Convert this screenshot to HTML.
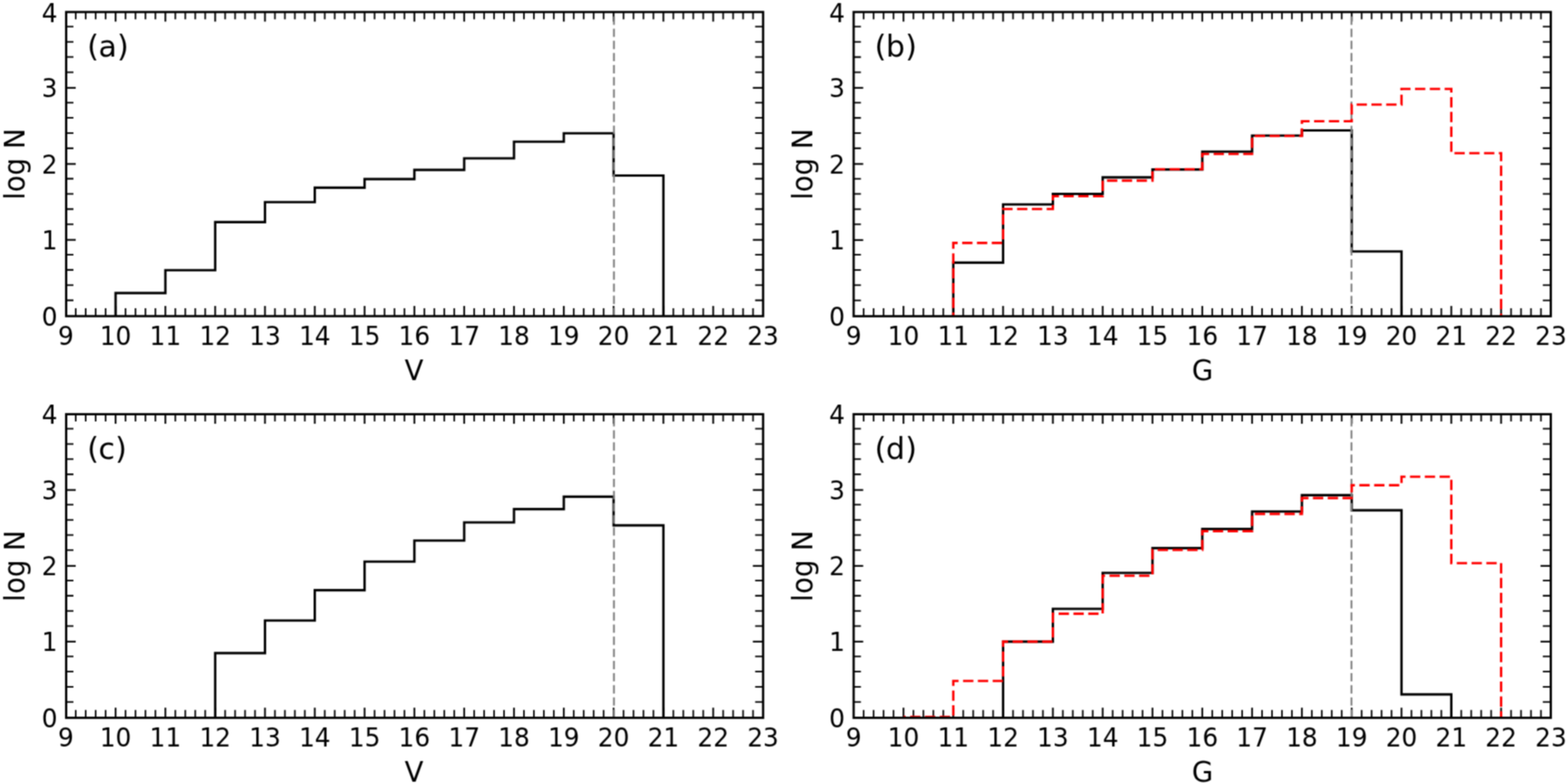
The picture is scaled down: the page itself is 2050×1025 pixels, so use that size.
<!DOCTYPE html><html><head><meta charset="utf-8"><title>log N histograms</title><style>html,body{margin:0;padding:0;background:#fff;}svg{display:block;}text{font-family:'DejaVu Sans', 'Liberation Sans', sans-serif;fill:#000;}</style></head><body>
<div id="w">
<svg width="2050" height="1025" viewBox="0 0 2050 1025">
<defs><filter id="soft" x="0" y="0" width="2050" height="1025" filterUnits="userSpaceOnUse" color-interpolation-filters="sRGB"><feConvolveMatrix order="3" kernelMatrix="1 2 1 2 4 2 1 2 1" divisor="16" edgeMode="duplicate"/></filter></defs>
<g filter="url(#soft)">
<rect x="0" y="0" width="2050" height="1025" fill="#fff"/>
<g><g stroke="#000" fill="none"><path d="M99.02,413.3V403M99.02,15.75V25.25" stroke-width="2.05"/><path d="M112.04,413.3V403M112.04,15.75V25.25" stroke-width="2.05"/><path d="M125.07,413.3V403M125.07,15.75V25.25" stroke-width="2.05"/><path d="M138.09,413.3V403M138.09,15.75V25.25" stroke-width="2.05"/><path d="M151.11,413.3V400M151.11,15.75V28.25" stroke-width="2.25"/><path d="M164.13,413.3V403M164.13,15.75V25.25" stroke-width="2.05"/><path d="M177.16,413.3V403M177.16,15.75V25.25" stroke-width="2.05"/><path d="M190.18,413.3V403M190.18,15.75V25.25" stroke-width="2.05"/><path d="M203.2,413.3V403M203.2,15.75V25.25" stroke-width="2.05"/><path d="M216.22,413.3V400M216.22,15.75V28.25" stroke-width="2.25"/><path d="M229.24,413.3V403M229.24,15.75V25.25" stroke-width="2.05"/><path d="M242.27,413.3V403M242.27,15.75V25.25" stroke-width="2.05"/><path d="M255.29,413.3V403M255.29,15.75V25.25" stroke-width="2.05"/><path d="M268.31,413.3V403M268.31,15.75V25.25" stroke-width="2.05"/><path d="M281.33,413.3V400M281.33,15.75V28.25" stroke-width="2.25"/><path d="M294.35,413.3V403M294.35,15.75V25.25" stroke-width="2.05"/><path d="M307.38,413.3V403M307.38,15.75V25.25" stroke-width="2.05"/><path d="M320.4,413.3V403M320.4,15.75V25.25" stroke-width="2.05"/><path d="M333.42,413.3V403M333.42,15.75V25.25" stroke-width="2.05"/><path d="M346.44,413.3V400M346.44,15.75V28.25" stroke-width="2.25"/><path d="M359.46,413.3V403M359.46,15.75V25.25" stroke-width="2.05"/><path d="M372.49,413.3V403M372.49,15.75V25.25" stroke-width="2.05"/><path d="M385.51,413.3V403M385.51,15.75V25.25" stroke-width="2.05"/><path d="M398.53,413.3V403M398.53,15.75V25.25" stroke-width="2.05"/><path d="M411.55,413.3V400M411.55,15.75V28.25" stroke-width="2.25"/><path d="M424.58,413.3V403M424.58,15.75V25.25" stroke-width="2.05"/><path d="M437.6,413.3V403M437.6,15.75V25.25" stroke-width="2.05"/><path d="M450.62,413.3V403M450.62,15.75V25.25" stroke-width="2.05"/><path d="M463.64,413.3V403M463.64,15.75V25.25" stroke-width="2.05"/><path d="M476.66,413.3V400M476.66,15.75V28.25" stroke-width="2.25"/><path d="M489.69,413.3V403M489.69,15.75V25.25" stroke-width="2.05"/><path d="M502.71,413.3V403M502.71,15.75V25.25" stroke-width="2.05"/><path d="M515.73,413.3V403M515.73,15.75V25.25" stroke-width="2.05"/><path d="M528.75,413.3V403M528.75,15.75V25.25" stroke-width="2.05"/><path d="M541.77,413.3V400M541.77,15.75V28.25" stroke-width="2.25"/><path d="M554.8,413.3V403M554.8,15.75V25.25" stroke-width="2.05"/><path d="M567.82,413.3V403M567.82,15.75V25.25" stroke-width="2.05"/><path d="M580.84,413.3V403M580.84,15.75V25.25" stroke-width="2.05"/><path d="M593.86,413.3V403M593.86,15.75V25.25" stroke-width="2.05"/><path d="M606.89,413.3V400M606.89,15.75V28.25" stroke-width="2.25"/><path d="M619.91,413.3V403M619.91,15.75V25.25" stroke-width="2.05"/><path d="M632.93,413.3V403M632.93,15.75V25.25" stroke-width="2.05"/><path d="M645.95,413.3V403M645.95,15.75V25.25" stroke-width="2.05"/><path d="M658.97,413.3V403M658.97,15.75V25.25" stroke-width="2.05"/><path d="M672,413.3V400M672,15.75V28.25" stroke-width="2.25"/><path d="M685.02,413.3V403M685.02,15.75V25.25" stroke-width="2.05"/><path d="M698.04,413.3V403M698.04,15.75V25.25" stroke-width="2.05"/><path d="M711.06,413.3V403M711.06,15.75V25.25" stroke-width="2.05"/><path d="M724.09,413.3V403M724.09,15.75V25.25" stroke-width="2.05"/><path d="M737.11,413.3V400M737.11,15.75V28.25" stroke-width="2.25"/><path d="M750.13,413.3V403M750.13,15.75V25.25" stroke-width="2.05"/><path d="M763.15,413.3V403M763.15,15.75V25.25" stroke-width="2.05"/><path d="M776.17,413.3V403M776.17,15.75V25.25" stroke-width="2.05"/><path d="M789.2,413.3V403M789.2,15.75V25.25" stroke-width="2.05"/><path d="M802.22,413.3V400M802.22,15.75V28.25" stroke-width="2.25"/><path d="M815.24,413.3V403M815.24,15.75V25.25" stroke-width="2.05"/><path d="M828.26,413.3V403M828.26,15.75V25.25" stroke-width="2.05"/><path d="M841.28,413.3V403M841.28,15.75V25.25" stroke-width="2.05"/><path d="M854.31,413.3V403M854.31,15.75V25.25" stroke-width="2.05"/><path d="M867.33,413.3V400M867.33,15.75V28.25" stroke-width="2.25"/><path d="M880.35,413.3V403M880.35,15.75V25.25" stroke-width="2.05"/><path d="M893.37,413.3V403M893.37,15.75V25.25" stroke-width="2.05"/><path d="M906.4,413.3V403M906.4,15.75V25.25" stroke-width="2.05"/><path d="M919.42,413.3V403M919.42,15.75V25.25" stroke-width="2.05"/><path d="M932.44,413.3V400M932.44,15.75V28.25" stroke-width="2.25"/><path d="M945.46,413.3V403M945.46,15.75V25.25" stroke-width="2.05"/><path d="M958.48,413.3V403M958.48,15.75V25.25" stroke-width="2.05"/><path d="M971.51,413.3V403M971.51,15.75V25.25" stroke-width="2.05"/><path d="M984.53,413.3V403M984.53,15.75V25.25" stroke-width="2.05"/><path d="M86.5,392.62H96M997.7,392.62H987.3" stroke-width="2.05"/><path d="M86.5,372.75H96M997.7,372.75H987.3" stroke-width="2.05"/><path d="M86.5,352.87H96M997.7,352.87H987.3" stroke-width="2.05"/><path d="M86.5,332.99H96M997.7,332.99H987.3" stroke-width="2.05"/><path d="M86.5,313.71H99M997.7,313.71H984.3" stroke-width="2.25"/><path d="M86.5,293.23H96M997.7,293.23H987.3" stroke-width="2.05"/><path d="M86.5,273.36H96M997.7,273.36H987.3" stroke-width="2.05"/><path d="M86.5,253.48H96M997.7,253.48H987.3" stroke-width="2.05"/><path d="M86.5,233.6H96M997.7,233.6H987.3" stroke-width="2.05"/><path d="M86.5,214.33H99M997.7,214.33H984.3" stroke-width="2.25"/><path d="M86.5,193.85H96M997.7,193.85H987.3" stroke-width="2.05"/><path d="M86.5,173.97H96M997.7,173.97H987.3" stroke-width="2.05"/><path d="M86.5,154.09H96M997.7,154.09H987.3" stroke-width="2.05"/><path d="M86.5,134.21H96M997.7,134.21H987.3" stroke-width="2.05"/><path d="M86.5,114.94H99M997.7,114.94H984.3" stroke-width="2.25"/><path d="M86.5,94.46H96M997.7,94.46H987.3" stroke-width="2.05"/><path d="M86.5,74.58H96M997.7,74.58H987.3" stroke-width="2.05"/><path d="M86.5,54.7H96M997.7,54.7H987.3" stroke-width="2.05"/><path d="M86.5,34.83H96M997.7,34.83H987.3" stroke-width="2.05"/></g><path d="M151.11,413.3 L151.11,383.1 L216.22,383.1 L216.22,353.3 L281.33,353.3 L281.33,290.4 L346.44,290.4 L346.44,264.3 L411.55,264.3 L411.55,245.4 L476.66,245.4 L476.66,234.1 L541.77,234.1 L541.77,222.1 L606.89,222.1 L606.89,207 L672,207 L672,185.3 L737.11,185.3 L737.11,174.3 L802.22,174.3 L802.22,229.5 L867.33,229.5 L867.33,413.3" fill="none" stroke="#000" stroke-width="3.1" stroke-linejoin="miter"/><path d="M802.67,413.3V15.75" stroke="#808080" stroke-width="2.4" stroke-dasharray="10.9 4.97" fill="none"/><rect x="86.5" y="15.75" width="911.2" height="397.55" fill="none" stroke="#000" stroke-width="2.95"/><g font-size="32.5"><text transform="translate(86,450.85) scale(1,1.035)" text-anchor="middle">9</text><text transform="translate(151.11,450.85) scale(1,1.035)" text-anchor="middle">10</text><text transform="translate(216.22,450.85) scale(1,1.035)" text-anchor="middle">11</text><text transform="translate(281.33,450.85) scale(1,1.035)" text-anchor="middle">12</text><text transform="translate(346.44,450.85) scale(1,1.035)" text-anchor="middle">13</text><text transform="translate(411.55,450.85) scale(1,1.035)" text-anchor="middle">14</text><text transform="translate(476.66,450.85) scale(1,1.035)" text-anchor="middle">15</text><text transform="translate(541.77,450.85) scale(1,1.035)" text-anchor="middle">16</text><text transform="translate(606.89,450.85) scale(1,1.035)" text-anchor="middle">17</text><text transform="translate(672,450.85) scale(1,1.035)" text-anchor="middle">18</text><text transform="translate(737.11,450.85) scale(1,1.035)" text-anchor="middle">19</text><text transform="translate(802.22,450.85) scale(1,1.035)" text-anchor="middle">20</text><text transform="translate(867.33,450.85) scale(1,1.035)" text-anchor="middle">21</text><text transform="translate(932.44,450.85) scale(1,1.035)" text-anchor="middle">22</text><text transform="translate(997.55,450.85) scale(1,1.035)" text-anchor="middle">23</text><text transform="translate(75.1,426.35) scale(1,1.035)" text-anchor="end">0</text><text transform="translate(75.1,326.16) scale(1,1.035)" text-anchor="end">1</text><text transform="translate(75.1,226.78) scale(1,1.035)" text-anchor="end">2</text><text transform="translate(75.1,127.39) scale(1,1.035)" text-anchor="end">3</text><text transform="translate(75.1,28.5) scale(1,1.035)" text-anchor="end">4</text></g><text transform="translate(541.25,497.15) scale(1,1.04)" font-size="36" text-anchor="middle">V</text><text transform="translate(32.4,214.53) rotate(-90) scale(1,1.02)" font-size="36" text-anchor="middle">log N</text><text x="114" y="73.9" font-size="39.2">(<tspan dx="-0.6">a</tspan><tspan dx="0.3">)</tspan></text></g>
<g><g stroke="#000" fill="none"><path d="M1129.12,413.4V403.1M1129.12,15.75V25.25" stroke-width="2.05"/><path d="M1142.14,413.4V403.1M1142.14,15.75V25.25" stroke-width="2.05"/><path d="M1155.17,413.4V403.1M1155.17,15.75V25.25" stroke-width="2.05"/><path d="M1168.19,413.4V403.1M1168.19,15.75V25.25" stroke-width="2.05"/><path d="M1181.21,413.4V400.1M1181.21,15.75V28.25" stroke-width="2.25"/><path d="M1194.23,413.4V403.1M1194.23,15.75V25.25" stroke-width="2.05"/><path d="M1207.25,413.4V403.1M1207.25,15.75V25.25" stroke-width="2.05"/><path d="M1220.28,413.4V403.1M1220.28,15.75V25.25" stroke-width="2.05"/><path d="M1233.3,413.4V403.1M1233.3,15.75V25.25" stroke-width="2.05"/><path d="M1246.32,413.4V400.1M1246.32,15.75V28.25" stroke-width="2.25"/><path d="M1259.34,413.4V403.1M1259.34,15.75V25.25" stroke-width="2.05"/><path d="M1272.37,413.4V403.1M1272.37,15.75V25.25" stroke-width="2.05"/><path d="M1285.39,413.4V403.1M1285.39,15.75V25.25" stroke-width="2.05"/><path d="M1298.41,413.4V403.1M1298.41,15.75V25.25" stroke-width="2.05"/><path d="M1311.43,413.4V400.1M1311.43,15.75V28.25" stroke-width="2.25"/><path d="M1324.45,413.4V403.1M1324.45,15.75V25.25" stroke-width="2.05"/><path d="M1337.48,413.4V403.1M1337.48,15.75V25.25" stroke-width="2.05"/><path d="M1350.5,413.4V403.1M1350.5,15.75V25.25" stroke-width="2.05"/><path d="M1363.52,413.4V403.1M1363.52,15.75V25.25" stroke-width="2.05"/><path d="M1376.54,413.4V400.1M1376.54,15.75V28.25" stroke-width="2.25"/><path d="M1389.57,413.4V403.1M1389.57,15.75V25.25" stroke-width="2.05"/><path d="M1402.59,413.4V403.1M1402.59,15.75V25.25" stroke-width="2.05"/><path d="M1415.61,413.4V403.1M1415.61,15.75V25.25" stroke-width="2.05"/><path d="M1428.63,413.4V403.1M1428.63,15.75V25.25" stroke-width="2.05"/><path d="M1441.65,413.4V400.1M1441.65,15.75V28.25" stroke-width="2.25"/><path d="M1454.68,413.4V403.1M1454.68,15.75V25.25" stroke-width="2.05"/><path d="M1467.7,413.4V403.1M1467.7,15.75V25.25" stroke-width="2.05"/><path d="M1480.72,413.4V403.1M1480.72,15.75V25.25" stroke-width="2.05"/><path d="M1493.74,413.4V403.1M1493.74,15.75V25.25" stroke-width="2.05"/><path d="M1506.76,413.4V400.1M1506.76,15.75V28.25" stroke-width="2.25"/><path d="M1519.79,413.4V403.1M1519.79,15.75V25.25" stroke-width="2.05"/><path d="M1532.81,413.4V403.1M1532.81,15.75V25.25" stroke-width="2.05"/><path d="M1545.83,413.4V403.1M1545.83,15.75V25.25" stroke-width="2.05"/><path d="M1558.85,413.4V403.1M1558.85,15.75V25.25" stroke-width="2.05"/><path d="M1571.88,413.4V400.1M1571.88,15.75V28.25" stroke-width="2.25"/><path d="M1584.9,413.4V403.1M1584.9,15.75V25.25" stroke-width="2.05"/><path d="M1597.92,413.4V403.1M1597.92,15.75V25.25" stroke-width="2.05"/><path d="M1610.94,413.4V403.1M1610.94,15.75V25.25" stroke-width="2.05"/><path d="M1623.96,413.4V403.1M1623.96,15.75V25.25" stroke-width="2.05"/><path d="M1636.99,413.4V400.1M1636.99,15.75V28.25" stroke-width="2.25"/><path d="M1650.01,413.4V403.1M1650.01,15.75V25.25" stroke-width="2.05"/><path d="M1663.03,413.4V403.1M1663.03,15.75V25.25" stroke-width="2.05"/><path d="M1676.05,413.4V403.1M1676.05,15.75V25.25" stroke-width="2.05"/><path d="M1689.07,413.4V403.1M1689.07,15.75V25.25" stroke-width="2.05"/><path d="M1702.1,413.4V400.1M1702.1,15.75V28.25" stroke-width="2.25"/><path d="M1715.12,413.4V403.1M1715.12,15.75V25.25" stroke-width="2.05"/><path d="M1728.14,413.4V403.1M1728.14,15.75V25.25" stroke-width="2.05"/><path d="M1741.16,413.4V403.1M1741.16,15.75V25.25" stroke-width="2.05"/><path d="M1754.18,413.4V403.1M1754.18,15.75V25.25" stroke-width="2.05"/><path d="M1767.21,413.4V400.1M1767.21,15.75V28.25" stroke-width="2.25"/><path d="M1780.23,413.4V403.1M1780.23,15.75V25.25" stroke-width="2.05"/><path d="M1793.25,413.4V403.1M1793.25,15.75V25.25" stroke-width="2.05"/><path d="M1806.27,413.4V403.1M1806.27,15.75V25.25" stroke-width="2.05"/><path d="M1819.3,413.4V403.1M1819.3,15.75V25.25" stroke-width="2.05"/><path d="M1832.32,413.4V400.1M1832.32,15.75V28.25" stroke-width="2.25"/><path d="M1845.34,413.4V403.1M1845.34,15.75V25.25" stroke-width="2.05"/><path d="M1858.36,413.4V403.1M1858.36,15.75V25.25" stroke-width="2.05"/><path d="M1871.38,413.4V403.1M1871.38,15.75V25.25" stroke-width="2.05"/><path d="M1884.41,413.4V403.1M1884.41,15.75V25.25" stroke-width="2.05"/><path d="M1897.43,413.4V400.1M1897.43,15.75V28.25" stroke-width="2.25"/><path d="M1910.45,413.4V403.1M1910.45,15.75V25.25" stroke-width="2.05"/><path d="M1923.47,413.4V403.1M1923.47,15.75V25.25" stroke-width="2.05"/><path d="M1936.5,413.4V403.1M1936.5,15.75V25.25" stroke-width="2.05"/><path d="M1949.52,413.4V403.1M1949.52,15.75V25.25" stroke-width="2.05"/><path d="M1962.54,413.4V400.1M1962.54,15.75V28.25" stroke-width="2.25"/><path d="M1975.56,413.4V403.1M1975.56,15.75V25.25" stroke-width="2.05"/><path d="M1988.58,413.4V403.1M1988.58,15.75V25.25" stroke-width="2.05"/><path d="M2001.61,413.4V403.1M2001.61,15.75V25.25" stroke-width="2.05"/><path d="M2014.63,413.4V403.1M2014.63,15.75V25.25" stroke-width="2.05"/><path d="M1116.05,392.72H1125.55M2027.5,392.72H2017.1" stroke-width="2.05"/><path d="M1116.05,372.83H1125.55M2027.5,372.83H2017.1" stroke-width="2.05"/><path d="M1116.05,352.95H1125.55M2027.5,352.95H2017.1" stroke-width="2.05"/><path d="M1116.05,333.07H1125.55M2027.5,333.07H2017.1" stroke-width="2.05"/><path d="M1116.05,313.79H1128.55M2027.5,313.79H2014.1" stroke-width="2.25"/><path d="M1116.05,293.3H1125.55M2027.5,293.3H2017.1" stroke-width="2.05"/><path d="M1116.05,273.42H1125.55M2027.5,273.42H2017.1" stroke-width="2.05"/><path d="M1116.05,253.54H1125.55M2027.5,253.54H2017.1" stroke-width="2.05"/><path d="M1116.05,233.66H1125.55M2027.5,233.66H2017.1" stroke-width="2.05"/><path d="M1116.05,214.38H1128.55M2027.5,214.38H2014.1" stroke-width="2.25"/><path d="M1116.05,193.89H1125.55M2027.5,193.89H2017.1" stroke-width="2.05"/><path d="M1116.05,174.01H1125.55M2027.5,174.01H2017.1" stroke-width="2.05"/><path d="M1116.05,154.13H1125.55M2027.5,154.13H2017.1" stroke-width="2.05"/><path d="M1116.05,134.24H1125.55M2027.5,134.24H2017.1" stroke-width="2.05"/><path d="M1116.05,114.96H1128.55M2027.5,114.96H2014.1" stroke-width="2.25"/><path d="M1116.05,94.48H1125.55M2027.5,94.48H2017.1" stroke-width="2.05"/><path d="M1116.05,74.6H1125.55M2027.5,74.6H2017.1" stroke-width="2.05"/><path d="M1116.05,54.71H1125.55M2027.5,54.71H2017.1" stroke-width="2.05"/><path d="M1116.05,34.83H1125.55M2027.5,34.83H2017.1" stroke-width="2.05"/></g><path d="M1246.32,413.4 L1246.32,343.4 L1311.43,343.4 L1311.43,267.2 L1376.54,267.2 L1376.54,253.5 L1441.65,253.5 L1441.65,231.9 L1506.76,231.9 L1506.76,221.6 L1571.88,221.6 L1571.88,198.3 L1636.99,198.3 L1636.99,177.2 L1702.1,177.2 L1702.1,170.5 L1767.21,170.5 L1767.21,328.75 L1832.32,328.75 L1832.32,413.4" fill="none" stroke="#000" stroke-width="3.1" stroke-linejoin="miter"/><path d="M1766.91,413.4V15.75" stroke="#808080" stroke-width="2.4" stroke-dasharray="10.9 4.97" fill="none"/><path d="M1246.32,413.4 L1246.32,317.6 L1311.43,317.6 L1311.43,273.3 L1376.54,273.3 L1376.54,256.5 L1441.65,256.5 L1441.65,236.1 L1506.76,236.1 L1506.76,221.2 L1571.88,221.2 L1571.88,201.3 L1636.99,201.3 L1636.99,177.7 L1702.1,177.7 L1702.1,158.5 L1767.21,158.5 L1767.21,136.7 L1832.32,136.7 L1832.32,116.3 L1897.43,116.3 L1897.43,200.2 L1962.54,200.2 L1962.54,413.4" fill="none" stroke="#ff0000" stroke-width="3.1" stroke-dasharray="13.5 5.85" stroke-dashoffset="8.7" stroke-linejoin="miter"/><rect x="1116.05" y="15.75" width="911.45" height="397.65" fill="none" stroke="#000" stroke-width="2.95"/><g font-size="32.5"><text transform="translate(1116.1,450.95) scale(1,1.035)" text-anchor="middle">9</text><text transform="translate(1181.21,450.95) scale(1,1.035)" text-anchor="middle">10</text><text transform="translate(1246.32,450.95) scale(1,1.035)" text-anchor="middle">11</text><text transform="translate(1311.43,450.95) scale(1,1.035)" text-anchor="middle">12</text><text transform="translate(1376.54,450.95) scale(1,1.035)" text-anchor="middle">13</text><text transform="translate(1441.65,450.95) scale(1,1.035)" text-anchor="middle">14</text><text transform="translate(1506.76,450.95) scale(1,1.035)" text-anchor="middle">15</text><text transform="translate(1571.88,450.95) scale(1,1.035)" text-anchor="middle">16</text><text transform="translate(1636.99,450.95) scale(1,1.035)" text-anchor="middle">17</text><text transform="translate(1702.1,450.95) scale(1,1.035)" text-anchor="middle">18</text><text transform="translate(1767.21,450.95) scale(1,1.035)" text-anchor="middle">19</text><text transform="translate(1832.32,450.95) scale(1,1.035)" text-anchor="middle">20</text><text transform="translate(1897.43,450.95) scale(1,1.035)" text-anchor="middle">21</text><text transform="translate(1962.54,450.95) scale(1,1.035)" text-anchor="middle">22</text><text transform="translate(2027.65,450.95) scale(1,1.035)" text-anchor="middle">23</text><text transform="translate(1104.65,426.45) scale(1,1.035)" text-anchor="end">0</text><text transform="translate(1104.65,326.24) scale(1,1.035)" text-anchor="end">1</text><text transform="translate(1104.65,226.82) scale(1,1.035)" text-anchor="end">2</text><text transform="translate(1104.65,127.41) scale(1,1.035)" text-anchor="end">3</text><text transform="translate(1104.65,28.5) scale(1,1.035)" text-anchor="end">4</text></g><text transform="translate(1572.08,497.25) scale(1,1.04)" font-size="36" text-anchor="middle">G</text><text transform="translate(1061.95,214.57) rotate(-90) scale(1,1.02)" font-size="36" text-anchor="middle">log N</text><text x="1143.55" y="73.9" font-size="39.2">(<tspan dx="-0.6">b</tspan><tspan dx="0.3">)</tspan></text></g>
<g><g stroke="#000" fill="none"><path d="M99.02,938.45V928.15M99.02,541.55V551.05" stroke-width="2.05"/><path d="M112.04,938.45V928.15M112.04,541.55V551.05" stroke-width="2.05"/><path d="M125.07,938.45V928.15M125.07,541.55V551.05" stroke-width="2.05"/><path d="M138.09,938.45V928.15M138.09,541.55V551.05" stroke-width="2.05"/><path d="M151.11,938.45V925.15M151.11,541.55V554.05" stroke-width="2.25"/><path d="M164.13,938.45V928.15M164.13,541.55V551.05" stroke-width="2.05"/><path d="M177.16,938.45V928.15M177.16,541.55V551.05" stroke-width="2.05"/><path d="M190.18,938.45V928.15M190.18,541.55V551.05" stroke-width="2.05"/><path d="M203.2,938.45V928.15M203.2,541.55V551.05" stroke-width="2.05"/><path d="M216.22,938.45V925.15M216.22,541.55V554.05" stroke-width="2.25"/><path d="M229.24,938.45V928.15M229.24,541.55V551.05" stroke-width="2.05"/><path d="M242.27,938.45V928.15M242.27,541.55V551.05" stroke-width="2.05"/><path d="M255.29,938.45V928.15M255.29,541.55V551.05" stroke-width="2.05"/><path d="M268.31,938.45V928.15M268.31,541.55V551.05" stroke-width="2.05"/><path d="M281.33,938.45V925.15M281.33,541.55V554.05" stroke-width="2.25"/><path d="M294.35,938.45V928.15M294.35,541.55V551.05" stroke-width="2.05"/><path d="M307.38,938.45V928.15M307.38,541.55V551.05" stroke-width="2.05"/><path d="M320.4,938.45V928.15M320.4,541.55V551.05" stroke-width="2.05"/><path d="M333.42,938.45V928.15M333.42,541.55V551.05" stroke-width="2.05"/><path d="M346.44,938.45V925.15M346.44,541.55V554.05" stroke-width="2.25"/><path d="M359.46,938.45V928.15M359.46,541.55V551.05" stroke-width="2.05"/><path d="M372.49,938.45V928.15M372.49,541.55V551.05" stroke-width="2.05"/><path d="M385.51,938.45V928.15M385.51,541.55V551.05" stroke-width="2.05"/><path d="M398.53,938.45V928.15M398.53,541.55V551.05" stroke-width="2.05"/><path d="M411.55,938.45V925.15M411.55,541.55V554.05" stroke-width="2.25"/><path d="M424.58,938.45V928.15M424.58,541.55V551.05" stroke-width="2.05"/><path d="M437.6,938.45V928.15M437.6,541.55V551.05" stroke-width="2.05"/><path d="M450.62,938.45V928.15M450.62,541.55V551.05" stroke-width="2.05"/><path d="M463.64,938.45V928.15M463.64,541.55V551.05" stroke-width="2.05"/><path d="M476.66,938.45V925.15M476.66,541.55V554.05" stroke-width="2.25"/><path d="M489.69,938.45V928.15M489.69,541.55V551.05" stroke-width="2.05"/><path d="M502.71,938.45V928.15M502.71,541.55V551.05" stroke-width="2.05"/><path d="M515.73,938.45V928.15M515.73,541.55V551.05" stroke-width="2.05"/><path d="M528.75,938.45V928.15M528.75,541.55V551.05" stroke-width="2.05"/><path d="M541.77,938.45V925.15M541.77,541.55V554.05" stroke-width="2.25"/><path d="M554.8,938.45V928.15M554.8,541.55V551.05" stroke-width="2.05"/><path d="M567.82,938.45V928.15M567.82,541.55V551.05" stroke-width="2.05"/><path d="M580.84,938.45V928.15M580.84,541.55V551.05" stroke-width="2.05"/><path d="M593.86,938.45V928.15M593.86,541.55V551.05" stroke-width="2.05"/><path d="M606.89,938.45V925.15M606.89,541.55V554.05" stroke-width="2.25"/><path d="M619.91,938.45V928.15M619.91,541.55V551.05" stroke-width="2.05"/><path d="M632.93,938.45V928.15M632.93,541.55V551.05" stroke-width="2.05"/><path d="M645.95,938.45V928.15M645.95,541.55V551.05" stroke-width="2.05"/><path d="M658.97,938.45V928.15M658.97,541.55V551.05" stroke-width="2.05"/><path d="M672,938.45V925.15M672,541.55V554.05" stroke-width="2.25"/><path d="M685.02,938.45V928.15M685.02,541.55V551.05" stroke-width="2.05"/><path d="M698.04,938.45V928.15M698.04,541.55V551.05" stroke-width="2.05"/><path d="M711.06,938.45V928.15M711.06,541.55V551.05" stroke-width="2.05"/><path d="M724.09,938.45V928.15M724.09,541.55V551.05" stroke-width="2.05"/><path d="M737.11,938.45V925.15M737.11,541.55V554.05" stroke-width="2.25"/><path d="M750.13,938.45V928.15M750.13,541.55V551.05" stroke-width="2.05"/><path d="M763.15,938.45V928.15M763.15,541.55V551.05" stroke-width="2.05"/><path d="M776.17,938.45V928.15M776.17,541.55V551.05" stroke-width="2.05"/><path d="M789.2,938.45V928.15M789.2,541.55V551.05" stroke-width="2.05"/><path d="M802.22,938.45V925.15M802.22,541.55V554.05" stroke-width="2.25"/><path d="M815.24,938.45V928.15M815.24,541.55V551.05" stroke-width="2.05"/><path d="M828.26,938.45V928.15M828.26,541.55V551.05" stroke-width="2.05"/><path d="M841.28,938.45V928.15M841.28,541.55V551.05" stroke-width="2.05"/><path d="M854.31,938.45V928.15M854.31,541.55V551.05" stroke-width="2.05"/><path d="M867.33,938.45V925.15M867.33,541.55V554.05" stroke-width="2.25"/><path d="M880.35,938.45V928.15M880.35,541.55V551.05" stroke-width="2.05"/><path d="M893.37,938.45V928.15M893.37,541.55V551.05" stroke-width="2.05"/><path d="M906.4,938.45V928.15M906.4,541.55V551.05" stroke-width="2.05"/><path d="M919.42,938.45V928.15M919.42,541.55V551.05" stroke-width="2.05"/><path d="M932.44,938.45V925.15M932.44,541.55V554.05" stroke-width="2.25"/><path d="M945.46,938.45V928.15M945.46,541.55V551.05" stroke-width="2.05"/><path d="M958.48,938.45V928.15M958.48,541.55V551.05" stroke-width="2.05"/><path d="M971.51,938.45V928.15M971.51,541.55V551.05" stroke-width="2.05"/><path d="M984.53,938.45V928.15M984.53,541.55V551.05" stroke-width="2.05"/><path d="M86.5,917.76H96M997.7,917.76H987.3" stroke-width="2.05"/><path d="M86.5,897.91H96M997.7,897.91H987.3" stroke-width="2.05"/><path d="M86.5,878.07H96M997.7,878.07H987.3" stroke-width="2.05"/><path d="M86.5,858.23H96M997.7,858.23H987.3" stroke-width="2.05"/><path d="M86.5,838.99H99M997.7,838.99H984.3" stroke-width="2.25"/><path d="M86.5,818.54H96M997.7,818.54H987.3" stroke-width="2.05"/><path d="M86.5,798.7H96M997.7,798.7H987.3" stroke-width="2.05"/><path d="M86.5,778.86H96M997.7,778.86H987.3" stroke-width="2.05"/><path d="M86.5,759.02H96M997.7,759.02H987.3" stroke-width="2.05"/><path d="M86.5,739.77H99M997.7,739.77H984.3" stroke-width="2.25"/><path d="M86.5,719.33H96M997.7,719.33H987.3" stroke-width="2.05"/><path d="M86.5,699.49H96M997.7,699.49H987.3" stroke-width="2.05"/><path d="M86.5,679.65H96M997.7,679.65H987.3" stroke-width="2.05"/><path d="M86.5,659.81H96M997.7,659.81H987.3" stroke-width="2.05"/><path d="M86.5,640.56H99M997.7,640.56H984.3" stroke-width="2.25"/><path d="M86.5,620.12H96M997.7,620.12H987.3" stroke-width="2.05"/><path d="M86.5,600.28H96M997.7,600.28H987.3" stroke-width="2.05"/><path d="M86.5,580.43H96M997.7,580.43H987.3" stroke-width="2.05"/><path d="M86.5,560.59H96M997.7,560.59H987.3" stroke-width="2.05"/></g><path d="M281.33,938.4 L281.33,853.9 L346.44,853.9 L346.44,811.2 L411.55,811.2 L411.55,771.6 L476.66,771.6 L476.66,734.3 L541.77,734.3 L541.77,706.8 L606.89,706.8 L606.89,683 L672,683 L672,665.6 L737.11,665.6 L737.11,649.4 L802.22,649.4 L802.22,686.9 L867.33,686.9 L867.33,938.4" fill="none" stroke="#000" stroke-width="3.1" stroke-linejoin="miter"/><path d="M802.67,938.4V541.55" stroke="#808080" stroke-width="2.4" stroke-dasharray="10.9 4.97" fill="none"/><rect x="86.5" y="541.55" width="911.2" height="396.9" fill="none" stroke="#000" stroke-width="2.95"/><g font-size="32.5"><text transform="translate(86,975.5) scale(1,1.015)" text-anchor="middle">9</text><text transform="translate(151.11,975.5) scale(1,1.015)" text-anchor="middle">10</text><text transform="translate(216.22,975.5) scale(1,1.015)" text-anchor="middle">11</text><text transform="translate(281.33,975.5) scale(1,1.015)" text-anchor="middle">12</text><text transform="translate(346.44,975.5) scale(1,1.015)" text-anchor="middle">13</text><text transform="translate(411.55,975.5) scale(1,1.015)" text-anchor="middle">14</text><text transform="translate(476.66,975.5) scale(1,1.015)" text-anchor="middle">15</text><text transform="translate(541.77,975.5) scale(1,1.015)" text-anchor="middle">16</text><text transform="translate(606.89,975.5) scale(1,1.015)" text-anchor="middle">17</text><text transform="translate(672,975.5) scale(1,1.015)" text-anchor="middle">18</text><text transform="translate(737.11,975.5) scale(1,1.015)" text-anchor="middle">19</text><text transform="translate(802.22,975.5) scale(1,1.015)" text-anchor="middle">20</text><text transform="translate(867.33,975.5) scale(1,1.015)" text-anchor="middle">21</text><text transform="translate(932.44,975.5) scale(1,1.015)" text-anchor="middle">22</text><text transform="translate(997.55,975.5) scale(1,1.015)" text-anchor="middle">23</text><text transform="translate(75.1,951.45) scale(1,1.035)" text-anchor="end">0</text><text transform="translate(75.1,851.44) scale(1,1.035)" text-anchor="end">1</text><text transform="translate(75.1,752.22) scale(1,1.035)" text-anchor="end">2</text><text transform="translate(75.1,653.01) scale(1,1.035)" text-anchor="end">3</text><text transform="translate(75.1,554.3) scale(1,1.035)" text-anchor="end">4</text></g><text transform="translate(541.25,1022.3) scale(1,1.04)" font-size="36" text-anchor="middle">V</text><text transform="translate(32.4,740) rotate(-90) scale(1,1.02)" font-size="36" text-anchor="middle">log N</text><text x="114" y="599.7" font-size="39.2">(<tspan dx="-0.6">c</tspan><tspan dx="0.3">)</tspan></text></g>
<g><g stroke="#000" fill="none"><path d="M1129.12,938.45V928.15M1129.12,541.55V551.05" stroke-width="2.05"/><path d="M1142.14,938.45V928.15M1142.14,541.55V551.05" stroke-width="2.05"/><path d="M1155.17,938.45V928.15M1155.17,541.55V551.05" stroke-width="2.05"/><path d="M1168.19,938.45V928.15M1168.19,541.55V551.05" stroke-width="2.05"/><path d="M1181.21,938.45V925.15M1181.21,541.55V554.05" stroke-width="2.25"/><path d="M1194.23,938.45V928.15M1194.23,541.55V551.05" stroke-width="2.05"/><path d="M1207.25,938.45V928.15M1207.25,541.55V551.05" stroke-width="2.05"/><path d="M1220.28,938.45V928.15M1220.28,541.55V551.05" stroke-width="2.05"/><path d="M1233.3,938.45V928.15M1233.3,541.55V551.05" stroke-width="2.05"/><path d="M1246.32,938.45V925.15M1246.32,541.55V554.05" stroke-width="2.25"/><path d="M1259.34,938.45V928.15M1259.34,541.55V551.05" stroke-width="2.05"/><path d="M1272.37,938.45V928.15M1272.37,541.55V551.05" stroke-width="2.05"/><path d="M1285.39,938.45V928.15M1285.39,541.55V551.05" stroke-width="2.05"/><path d="M1298.41,938.45V928.15M1298.41,541.55V551.05" stroke-width="2.05"/><path d="M1311.43,938.45V925.15M1311.43,541.55V554.05" stroke-width="2.25"/><path d="M1324.45,938.45V928.15M1324.45,541.55V551.05" stroke-width="2.05"/><path d="M1337.48,938.45V928.15M1337.48,541.55V551.05" stroke-width="2.05"/><path d="M1350.5,938.45V928.15M1350.5,541.55V551.05" stroke-width="2.05"/><path d="M1363.52,938.45V928.15M1363.52,541.55V551.05" stroke-width="2.05"/><path d="M1376.54,938.45V925.15M1376.54,541.55V554.05" stroke-width="2.25"/><path d="M1389.57,938.45V928.15M1389.57,541.55V551.05" stroke-width="2.05"/><path d="M1402.59,938.45V928.15M1402.59,541.55V551.05" stroke-width="2.05"/><path d="M1415.61,938.45V928.15M1415.61,541.55V551.05" stroke-width="2.05"/><path d="M1428.63,938.45V928.15M1428.63,541.55V551.05" stroke-width="2.05"/><path d="M1441.65,938.45V925.15M1441.65,541.55V554.05" stroke-width="2.25"/><path d="M1454.68,938.45V928.15M1454.68,541.55V551.05" stroke-width="2.05"/><path d="M1467.7,938.45V928.15M1467.7,541.55V551.05" stroke-width="2.05"/><path d="M1480.72,938.45V928.15M1480.72,541.55V551.05" stroke-width="2.05"/><path d="M1493.74,938.45V928.15M1493.74,541.55V551.05" stroke-width="2.05"/><path d="M1506.76,938.45V925.15M1506.76,541.55V554.05" stroke-width="2.25"/><path d="M1519.79,938.45V928.15M1519.79,541.55V551.05" stroke-width="2.05"/><path d="M1532.81,938.45V928.15M1532.81,541.55V551.05" stroke-width="2.05"/><path d="M1545.83,938.45V928.15M1545.83,541.55V551.05" stroke-width="2.05"/><path d="M1558.85,938.45V928.15M1558.85,541.55V551.05" stroke-width="2.05"/><path d="M1571.88,938.45V925.15M1571.88,541.55V554.05" stroke-width="2.25"/><path d="M1584.9,938.45V928.15M1584.9,541.55V551.05" stroke-width="2.05"/><path d="M1597.92,938.45V928.15M1597.92,541.55V551.05" stroke-width="2.05"/><path d="M1610.94,938.45V928.15M1610.94,541.55V551.05" stroke-width="2.05"/><path d="M1623.96,938.45V928.15M1623.96,541.55V551.05" stroke-width="2.05"/><path d="M1636.99,938.45V925.15M1636.99,541.55V554.05" stroke-width="2.25"/><path d="M1650.01,938.45V928.15M1650.01,541.55V551.05" stroke-width="2.05"/><path d="M1663.03,938.45V928.15M1663.03,541.55V551.05" stroke-width="2.05"/><path d="M1676.05,938.45V928.15M1676.05,541.55V551.05" stroke-width="2.05"/><path d="M1689.07,938.45V928.15M1689.07,541.55V551.05" stroke-width="2.05"/><path d="M1702.1,938.45V925.15M1702.1,541.55V554.05" stroke-width="2.25"/><path d="M1715.12,938.45V928.15M1715.12,541.55V551.05" stroke-width="2.05"/><path d="M1728.14,938.45V928.15M1728.14,541.55V551.05" stroke-width="2.05"/><path d="M1741.16,938.45V928.15M1741.16,541.55V551.05" stroke-width="2.05"/><path d="M1754.18,938.45V928.15M1754.18,541.55V551.05" stroke-width="2.05"/><path d="M1767.21,938.45V925.15M1767.21,541.55V554.05" stroke-width="2.25"/><path d="M1780.23,938.45V928.15M1780.23,541.55V551.05" stroke-width="2.05"/><path d="M1793.25,938.45V928.15M1793.25,541.55V551.05" stroke-width="2.05"/><path d="M1806.27,938.45V928.15M1806.27,541.55V551.05" stroke-width="2.05"/><path d="M1819.3,938.45V928.15M1819.3,541.55V551.05" stroke-width="2.05"/><path d="M1832.32,938.45V925.15M1832.32,541.55V554.05" stroke-width="2.25"/><path d="M1845.34,938.45V928.15M1845.34,541.55V551.05" stroke-width="2.05"/><path d="M1858.36,938.45V928.15M1858.36,541.55V551.05" stroke-width="2.05"/><path d="M1871.38,938.45V928.15M1871.38,541.55V551.05" stroke-width="2.05"/><path d="M1884.41,938.45V928.15M1884.41,541.55V551.05" stroke-width="2.05"/><path d="M1897.43,938.45V925.15M1897.43,541.55V554.05" stroke-width="2.25"/><path d="M1910.45,938.45V928.15M1910.45,541.55V551.05" stroke-width="2.05"/><path d="M1923.47,938.45V928.15M1923.47,541.55V551.05" stroke-width="2.05"/><path d="M1936.5,938.45V928.15M1936.5,541.55V551.05" stroke-width="2.05"/><path d="M1949.52,938.45V928.15M1949.52,541.55V551.05" stroke-width="2.05"/><path d="M1962.54,938.45V925.15M1962.54,541.55V554.05" stroke-width="2.25"/><path d="M1975.56,938.45V928.15M1975.56,541.55V551.05" stroke-width="2.05"/><path d="M1988.58,938.45V928.15M1988.58,541.55V551.05" stroke-width="2.05"/><path d="M2001.61,938.45V928.15M2001.61,541.55V551.05" stroke-width="2.05"/><path d="M2014.63,938.45V928.15M2014.63,541.55V551.05" stroke-width="2.05"/><path d="M1116.05,917.76H1125.55M2027.5,917.76H2017.1" stroke-width="2.05"/><path d="M1116.05,897.91H1125.55M2027.5,897.91H2017.1" stroke-width="2.05"/><path d="M1116.05,878.07H1125.55M2027.5,878.07H2017.1" stroke-width="2.05"/><path d="M1116.05,858.23H1125.55M2027.5,858.23H2017.1" stroke-width="2.05"/><path d="M1116.05,838.99H1128.55M2027.5,838.99H2014.1" stroke-width="2.25"/><path d="M1116.05,818.54H1125.55M2027.5,818.54H2017.1" stroke-width="2.05"/><path d="M1116.05,798.7H1125.55M2027.5,798.7H2017.1" stroke-width="2.05"/><path d="M1116.05,778.86H1125.55M2027.5,778.86H2017.1" stroke-width="2.05"/><path d="M1116.05,759.02H1125.55M2027.5,759.02H2017.1" stroke-width="2.05"/><path d="M1116.05,739.77H1128.55M2027.5,739.77H2014.1" stroke-width="2.25"/><path d="M1116.05,719.33H1125.55M2027.5,719.33H2017.1" stroke-width="2.05"/><path d="M1116.05,699.49H1125.55M2027.5,699.49H2017.1" stroke-width="2.05"/><path d="M1116.05,679.65H1125.55M2027.5,679.65H2017.1" stroke-width="2.05"/><path d="M1116.05,659.81H1125.55M2027.5,659.81H2017.1" stroke-width="2.05"/><path d="M1116.05,640.56H1128.55M2027.5,640.56H2014.1" stroke-width="2.25"/><path d="M1116.05,620.12H1125.55M2027.5,620.12H2017.1" stroke-width="2.05"/><path d="M1116.05,600.28H1125.55M2027.5,600.28H2017.1" stroke-width="2.05"/><path d="M1116.05,580.43H1125.55M2027.5,580.43H2017.1" stroke-width="2.05"/><path d="M1116.05,560.59H1125.55M2027.5,560.59H2017.1" stroke-width="2.05"/></g><path d="M1311.43,938.4 L1311.43,838.9 L1376.54,838.9 L1376.54,796 L1441.65,796 L1441.65,749 L1506.76,749 L1506.76,716.6 L1571.88,716.6 L1571.88,691.6 L1636.99,691.6 L1636.99,668.8 L1702.1,668.8 L1702.1,647.4 L1767.21,647.4 L1767.21,667.1 L1832.32,667.1 L1832.32,907.9 L1897.43,907.9 L1897.43,938.4" fill="none" stroke="#000" stroke-width="3.1" stroke-linejoin="miter"/><path d="M1766.91,938.4V541.55" stroke="#808080" stroke-width="2.4" stroke-dasharray="10.9 4.97" fill="none"/><path d="M1181.21,937.2 L1246.32,937.2 L1246.32,890.3 L1311.43,890.3 L1311.43,838.9 L1376.54,838.9 L1376.54,802.4 L1441.65,802.4 L1441.65,752.8 L1506.76,752.8 L1506.76,719 L1571.88,719 L1571.88,694.4 L1636.99,694.4 L1636.99,671.9 L1702.1,671.9 L1702.1,651.1 L1767.21,651.1 L1767.21,634.4 L1832.32,634.4 L1832.32,623.2 L1897.43,623.2 L1897.43,736.2 L1962.54,736.2 L1962.54,938.4" fill="none" stroke="#ff0000" stroke-width="3.1" stroke-dasharray="13.5 5.85" stroke-dashoffset="10.65" stroke-linejoin="miter"/><rect x="1116.05" y="541.55" width="911.45" height="396.9" fill="none" stroke="#000" stroke-width="2.95"/><g font-size="32.5"><text transform="translate(1116.1,975.5) scale(1,1.015)" text-anchor="middle">9</text><text transform="translate(1181.21,975.5) scale(1,1.015)" text-anchor="middle">10</text><text transform="translate(1246.32,975.5) scale(1,1.015)" text-anchor="middle">11</text><text transform="translate(1311.43,975.5) scale(1,1.015)" text-anchor="middle">12</text><text transform="translate(1376.54,975.5) scale(1,1.015)" text-anchor="middle">13</text><text transform="translate(1441.65,975.5) scale(1,1.015)" text-anchor="middle">14</text><text transform="translate(1506.76,975.5) scale(1,1.015)" text-anchor="middle">15</text><text transform="translate(1571.88,975.5) scale(1,1.015)" text-anchor="middle">16</text><text transform="translate(1636.99,975.5) scale(1,1.015)" text-anchor="middle">17</text><text transform="translate(1702.1,975.5) scale(1,1.015)" text-anchor="middle">18</text><text transform="translate(1767.21,975.5) scale(1,1.015)" text-anchor="middle">19</text><text transform="translate(1832.32,975.5) scale(1,1.015)" text-anchor="middle">20</text><text transform="translate(1897.43,975.5) scale(1,1.015)" text-anchor="middle">21</text><text transform="translate(1962.54,975.5) scale(1,1.015)" text-anchor="middle">22</text><text transform="translate(2027.65,975.5) scale(1,1.015)" text-anchor="middle">23</text><text transform="translate(1104.65,951.45) scale(1,1.035)" text-anchor="end">0</text><text transform="translate(1104.65,851.44) scale(1,1.035)" text-anchor="end">1</text><text transform="translate(1104.65,752.22) scale(1,1.035)" text-anchor="end">2</text><text transform="translate(1104.65,653.01) scale(1,1.035)" text-anchor="end">3</text><text transform="translate(1104.65,554.3) scale(1,1.035)" text-anchor="end">4</text></g><text transform="translate(1572.08,1022.3) scale(1,1.04)" font-size="36" text-anchor="middle">G</text><text transform="translate(1061.95,740) rotate(-90) scale(1,1.02)" font-size="36" text-anchor="middle">log N</text><text x="1143.55" y="599.7" font-size="39.2">(<tspan dx="-0.6">d</tspan><tspan dx="0.3">)</tspan></text></g>
</g></svg></div></body></html>
